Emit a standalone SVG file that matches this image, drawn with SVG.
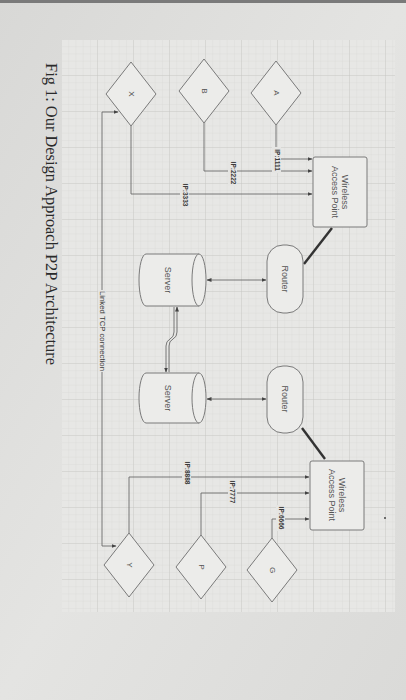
<svg xmlns="http://www.w3.org/2000/svg" width="406" height="700" viewBox="0 0 406 700">
<defs>
  <linearGradient id="bg" x1="0" y1="0" x2="1" y2="1">
    <stop offset="0" stop-color="#d8d8d6"/>
    <stop offset="0.5" stop-color="#e4e4e2"/>
    <stop offset="1" stop-color="#dadad8"/>
  </linearGradient>
  <pattern id="minor" width="7.2" height="7.2" patternUnits="userSpaceOnUse" x="62" y="40">
    <path d="M7.2 0 V7.2 M0 7.2 H7.2" fill="none" stroke="#d0d0ce" stroke-width="0.5"/>
  </pattern>
  <pattern id="major" width="36" height="36" patternUnits="userSpaceOnUse" x="62" y="40">
    <path d="M36 0 V36 M0 36 H36" fill="none" stroke="#c4c4c2" stroke-width="0.7"/>
  </pattern>
  <marker id="ah" viewBox="0 0 10 10" refX="9" refY="5" markerWidth="5" markerHeight="5" orient="auto-start-reverse" markerUnits="userSpaceOnUse">
    <path d="M0 1 L10 5 L0 9 Z" fill="#444"/>
  </marker>
  <style>
    .shape{fill:#ececea;stroke:#7a7a7a;stroke-width:1}
    .lbl{font-family:"Liberation Sans",Arial,sans-serif;font-size:9px;fill:#555;text-anchor:middle;dominant-baseline:central}
    .nl{font-family:"Liberation Sans",Arial,sans-serif;font-size:8px;fill:#555;text-anchor:middle;dominant-baseline:central}
    .ip{font-family:"Liberation Sans",Arial,sans-serif;font-size:6.5px;font-weight:bold;fill:#3a3a3a;text-anchor:middle;dominant-baseline:central}
    .ipbg{fill:#e5e5e3}
    .conn{fill:none;stroke:#6a6a6a;stroke-width:0.9}
    .thick{fill:none;stroke:#333;stroke-width:2.4}
    .cap{font-family:"Liberation Serif","Times New Roman",serif;font-size:16px;fill:#2a2a2a;text-anchor:middle;dominant-baseline:central}
  </style>
</defs>
<rect width="406" height="700" fill="url(#bg)"/>
<rect x="0" y="0" width="406" height="3" fill="#7a7a7a"/>
<rect x="62" y="40" width="333" height="572" fill="#e7e7e5"/>
<rect x="62" y="40" width="333" height="572" fill="url(#minor)"/>
<rect x="62" y="40" width="333" height="572" fill="url(#major)"/>
<circle cx="385" cy="518" r="1" fill="#444"/>

<g id="caption">
  <text class="cap" transform="translate(51,214) rotate(90)" textLength="302" lengthAdjust="spacingAndGlyphs">Fig 1: Our Design Approach P2P Architecture</text>
</g>

<g id="connectors">
  <path class="conn" d="M276 125 V159 H312" marker-end="url(#ah)"/>
  <path class="conn" d="M204 123 V171 H312" marker-end="url(#ah)"/>
  <path class="conn" d="M131 126 V194 H312" marker-end="url(#ah)"/>
  <path class="conn" d="M272 538 V519 H309" marker-end="url(#ah)"/>
  <path class="conn" d="M201 535 V493 H309" marker-end="url(#ah)"/>
  <path class="conn" d="M129 533 V477 H309" marker-end="url(#ah)"/>
  <path class="conn" d="M118 112 H102 V546 H116" marker-start="url(#ah)" marker-end="url(#ah)"/>
  <path class="conn" d="M207 280 H266" marker-start="url(#ah)" marker-end="url(#ah)"/>
  <path class="conn" d="M207 399 H266" marker-start="url(#ah)" marker-end="url(#ah)"/>
  <path class="conn" d="M169 372 V346 Q169 341 173 339 Q177 337 177 332 V307" marker-end="url(#ah)"/>
  <path class="conn" d="M174 307 V332 Q174 337 170 339 Q166 341 166 346 V372" marker-end="url(#ah)"/>
  <path class="thick" d="M332 228 L304 264"/>
  <path class="thick" d="M302 428 L325 459"/>
  <rect class="ipbg" x="272" y="147" width="9" height="26"/>
  <text class="ip" transform="translate(277,160) rotate(90)">IP:1111</text>
  <rect class="ipbg" x="228" y="160" width="9" height="26"/>
  <text class="ip" transform="translate(233,173) rotate(90)">IP:2222</text>
  <rect class="ipbg" x="180" y="182" width="9" height="26"/>
  <text class="ip" transform="translate(185,195) rotate(90)">IP:3333</text>
  <rect class="ipbg" x="276" y="505" width="9" height="26"/>
  <text class="ip" transform="translate(281,518) rotate(90)">IP:6666</text>
  <rect class="ipbg" x="228" y="479" width="9" height="26"/>
  <text class="ip" transform="translate(232,492) rotate(90)">IP:7777</text>
  <rect class="ipbg" x="182" y="460" width="9" height="26"/>
  <text class="ip" transform="translate(187,473) rotate(90)">IP:8888</text>
  <rect class="ipbg" x="98" y="290" width="8" height="82"/>
  <text class="ip" style="font-weight:normal;font-size:6.5px" transform="translate(102,331) rotate(90)" textLength="80" lengthAdjust="spacingAndGlyphs">Linked TCP connection</text>
</g>

<g id="nodeA"><path class="shape" d="M276 61 L301 93 L276 125 L251 93 Z"/><text class="nl" transform="translate(276,93) rotate(90)">A</text></g>
<g id="nodeB"><path class="shape" d="M204 59 L229 91 L204 123 L179 91 Z"/><text class="nl" transform="translate(204,91) rotate(90)">B</text></g>
<g id="nodeX"><path class="shape" d="M131 62 L156 94 L131 126 L106 94 Z"/><text class="nl" transform="translate(131,94) rotate(90)">X</text></g>
<g id="nodeY"><path class="shape" d="M129 533 L154 565 L129 597 L104 565 Z"/><text class="nl" transform="translate(129,565) rotate(90)">Y</text></g>
<g id="nodeP"><path class="shape" d="M201 535 L226 567 L201 599 L176 567 Z"/><text class="nl" transform="translate(201,567) rotate(90)">P</text></g>
<g id="nodeG"><path class="shape" d="M272 538 L297 570 L272 602 L247 570 Z"/><text class="nl" transform="translate(272,570) rotate(90)">G</text></g>

<g id="wap1"><rect class="shape" x="313" y="157" width="54" height="70" rx="2"/><text class="lbl" transform="translate(340,192) rotate(90)"><tspan x="0" y="-5">Wireless</tspan><tspan x="0" y="5">Access Point</tspan></text></g>
<g id="wap2"><rect class="shape" x="310" y="461" width="54" height="69" rx="2"/><text class="lbl" transform="translate(337,495) rotate(90)"><tspan x="0" y="-5">Wireless</tspan><tspan x="0" y="5">Access Point</tspan></text></g>

<g id="router1"><rect class="shape" x="267" y="245" width="36" height="68" rx="16"/><text class="lbl" transform="translate(285,279) rotate(90)">Router</text></g>
<g id="router2"><rect class="shape" x="267" y="366" width="36" height="67" rx="16"/><text class="lbl" transform="translate(285,399) rotate(90)">Router</text></g>

<g id="server1"><path class="shape" d="M199 254 H146 A7 26 0 0 0 146 306 H199"/><ellipse class="shape" cx="199" cy="280" rx="7" ry="26"/><text class="lbl" transform="translate(168,280) rotate(90)">Server</text></g>
<g id="server2"><path class="shape" d="M199 373 H146 A7 25 0 0 0 146 423 H199"/><ellipse class="shape" cx="199" cy="398" rx="7" ry="25"/><text class="lbl" transform="translate(168,398) rotate(90)">Server</text></g>
</svg>
